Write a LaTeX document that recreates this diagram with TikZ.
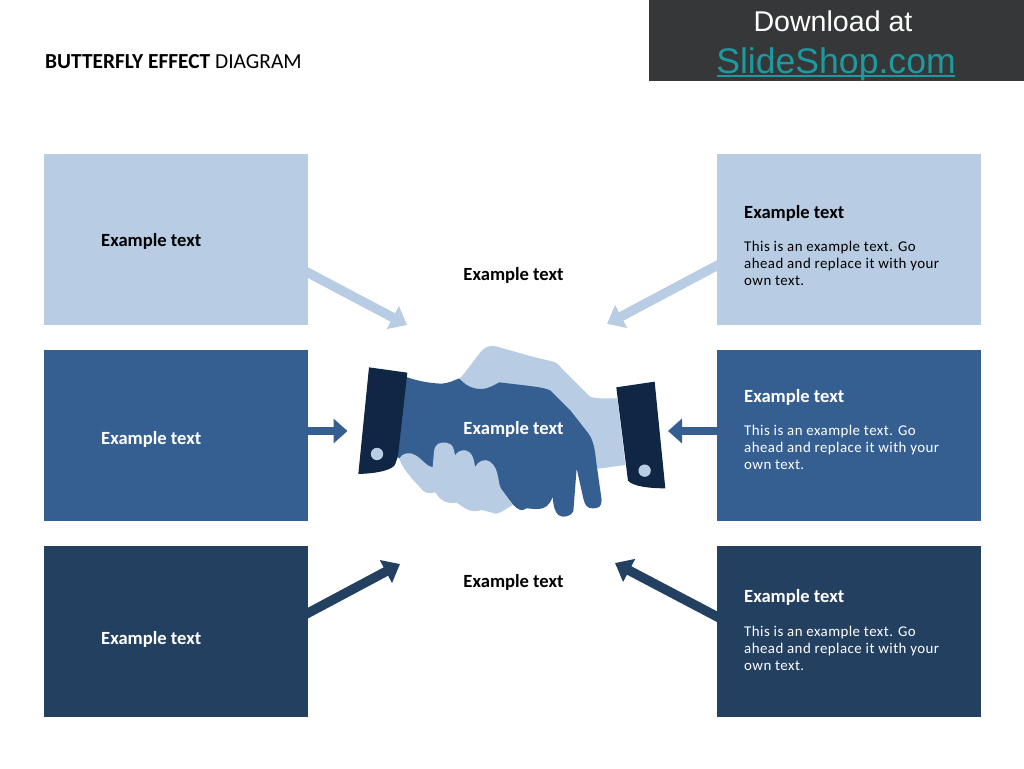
\documentclass[tikz,border=0pt]{standalone}
\usepackage{fontspec}
\setmainfont{Carlito}
\newfontfamily\arialf{Liberation Sans}
\usetikzlibrary{arrows.meta}
\definecolor{cLight}{HTML}{B8CCE4}
\definecolor{cMid}{HTML}{365F91}
\definecolor{cDark}{HTML}{244061}
\definecolor{cCuff}{HTML}{0F2744}
\definecolor{cBanner}{HTML}{363738}
\definecolor{cLink}{HTML}{1C9AA0}
\tikzset{
  box/.style={draw=none,fill=#1,minimum width=264pt,minimum height=170.5pt,inner sep=0pt,anchor=north west},
  head/.style={anchor=west,inner sep=0pt,font=\fontsize{18.6}{20}\selectfont\bfseries,text=#1},
  body/.style={anchor=north west,inner sep=0pt,align=left,font=\addfontfeature{LetterSpace=3}\fontsize{14.9}{17}\selectfont,text=#1},
  slant/.style={draw=#1,line width=9.5pt,-{Triangle[length=16pt,width=25pt]}},
  straight/.style={draw=#1,line width=8pt,-{Triangle[length=14pt,width=24pt]}},
}
\begin{document}
\begin{tikzpicture}[x=1pt,y=-1pt]
\useasboundingbox (0,0) rectangle (1024,768);
% free ends of the connectors
\coordinate (a1s) at (295,265.8);  \coordinate (a1e) at (407,325);
\coordinate (a2s) at (300,431);  \coordinate (a2e) at (347.5,431);
\coordinate (a3s) at (295,620);  \coordinate (a3e) at (400,564);
\coordinate (a4s) at (730,258.6);  \coordinate (a4e) at (607,324);
\coordinate (a5s) at (725,431);  \coordinate (a5e) at (668,431);
\coordinate (a6s) at (730,623.5);  \coordinate (a6e) at (615,563);
\draw[slant=cLight] (a1s) -- (a1e);
\draw[straight=cMid] (a2s) -- (a2e);
\draw[slant=cDark] (a3s) -- (a3e);
\draw[slant=cLight] (a4s) -- (a4e);
\draw[straight=cMid] (a5s) -- (a5e);
\draw[slant=cDark] (a6s) -- (a6e);
% boxes
\node[box=cLight] (bl1) at (44,154) {};
\node[box=cMid]   (bl2) at (44,350) {};
\node[box=cDark]  (bl3) at (44,546) {};
\node[box=cLight] (br1) at (717,154) {};
\node[box=cMid]   (br2) at (717,350) {};
\node[box=cDark]  (br3) at (717,546) {};
% banner
\fill[cBanner] (649,0) rectangle (1024,81);
\node[inner sep=0pt,text=white,font=\arialf\fontsize{28.6}{30}\selectfont] (dl) at (833,21.5) {Download at};
\node[inner sep=0pt,text=cLink,font=\arialf\fontsize{35.6}{38}\selectfont] (ss) at (836,64) {SlideShop.com};
\draw[cLink,line width=1.8pt] (717,76) -- (955,76);
% title
\node[anchor=west,inner sep=0pt,font=\fontsize{21.4}{23}\selectfont] (title) at (45,62) {\textbf{BUTTERFLY EFFECT} DIAGRAM};
% handshake
\begin{scope}[shift={(340,330)},x=0.3333pt,y=-0.3333pt]
  % light hand, upper part
  \fill[cLight] (360,145) .. controls (395,105) and (415,70) .. (430,58)
     .. controls (440,48) and (455,47) .. (468,49) -- (570,78) -- (640,95) .. controls (655,100) and (660,110) .. (672,122)
     -- (750,200) .. controls (770,207) and (800,205) .. (832,205)
     -- (856,405) -- (775,416) -- (600,300) -- (400,200) -- cycle;
  % dark hand
  \fill[cMid] (190,139) -- (202,142) .. controls (240,155) and (275,160) .. (305,161) .. controls (325,160) and (345,150) .. (358,145)
     .. controls (375,165) and (395,177) .. (425,177) .. controls (450,175) and (462,165) .. (478,157)
     -- (570,168) .. controls (600,172) and (620,175) .. (632,182)
     -- (690,240) -- (745,310) .. controls (760,330) and (765,360) .. (768,390)
     -- (785,510) .. controls (785,530) and (775,536) .. (758,535) .. controls (740,535) and (735,525) .. (730,505)
     -- (710,415) -- (700,545) .. controls (690,560) and (670,565) .. (655,555)
     .. controls (645,545) and (640,530) .. (638,500) .. controls (630,525) and (615,537) .. (595,537)
     .. controls (580,538) and (570,535) .. (560,535) .. controls (545,545) and (535,540) .. (520,525)
     -- (480,475) -- (200,395) -- (178,385) -- (165,378) -- cycle;
  % light hand, fingers
  \fill[cLight] (178,385) .. controls (188,368) and (210,365) .. (225,375)
     .. controls (245,385) and (260,410) .. (278,412)
     -- (282,365) .. controls (285,340) and (300,336) .. (318,338) .. controls (338,340) and (342,355) .. (345,376)
     .. controls (355,360) and (375,355) .. (390,368) .. controls (400,378) and (403,395) .. (405,411)
     .. controls (415,392) and (435,385) .. (450,395) .. controls (465,405) and (472,425) .. (475,445)
     .. controls (478,465) and (480,475) .. (490,485) -- (518,525)
     .. controls (500,535) and (485,548) .. (468,551) -- (425,540) .. controls (410,545) and (390,545) .. (375,535)
     -- (350,518) .. controls (335,520) and (315,520) .. (300,505) -- (285,487)
     .. controls (275,490) and (262,492) .. (250,483) -- (215,445) .. controls (200,425) and (185,410) .. (178,385) -- cycle;
  % cuffs
  \fill[cCuff] (87,112) -- (202,128) -- (174,378) -- (166,402) .. controls (160,418) and (120,430) .. (55,432) -- cycle;
  \fill[cCuff] (829,172) -- (944,155) -- (976,475) .. controls (930,475) and (880,470) .. (864,452) -- cycle;
  \fill[cLight] (111,372) circle[radius=18.5];
  \fill[cLight] (914,422) circle[radius=18.5];
\end{scope}
% left labels
\node[head=black] (t1) at (101,241) {Example text};
\node[head=white] (t2) at (101,439) {Example text};
\node[head=white] (t3) at (101,639) {Example text};
% centre labels
\node[head=black,anchor=center] (c1) at (513.5,275) {Example text};
\node[head=white,anchor=center] (c2) at (513.5,429) {Example text};
\node[head=black,anchor=center] (c3) at (513.5,582) {Example text};
% right labels
\node[head=black] (h1) at (744,213) {Example text};
\node[body=black] (p1) at (744,240.5) {This is an example text. Go\\ahead and replace it with your\\own text.};
\node[head=white] (h2) at (744,397) {Example text};
\node[body=white] (p2) at (744,424.5) {This is an example text. Go\\ahead and replace it with your\\own text.};
\node[head=white] (h3) at (744,597) {Example text};
\node[body=white] (p3) at (744,625.5) {This is an example text. Go\\ahead and replace it with your\\own text.};
\end{tikzpicture}
\end{document}
